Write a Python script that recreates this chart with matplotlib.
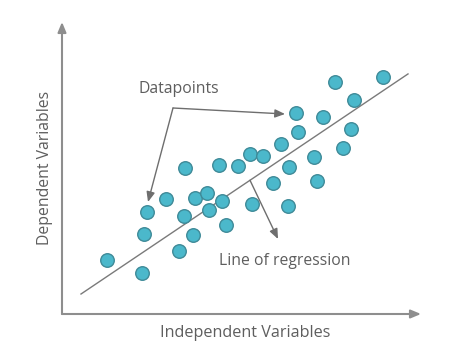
import matplotlib
matplotlib.use("Agg")
import matplotlib.pyplot as plt
import numpy as np

# data points (x, y) in arbitrary units (origin at axes corner)
x_vals = [45, 80, 82, 85, 104, 123, 122, 117, 131, 133, 145, 147, 160, 164, 157, 176,
          188, 201, 219, 236, 234, 261, 273, 321, 292, 289, 281, 252, 227, 211, 255, 190, 226]
y_vals = [54, 41, 80, 102, 115, 146, 98, 63, 79, 116, 121, 104, 113, 89, 149, 148,
          160, 158, 170, 182, 201, 197, 232, 237, 214, 185, 166, 157, 147, 131, 133, 110, 108]

# regression line
reg_slope = 0.673
reg_intercept = 7.2
reg_x = [19, 346]

labels = {"x": "Independent Variables", "y": "Dependent Variables",
          "points": "Datapoints", "line": "Line of regression"}

fig = plt.figure(figsize=(4.74, 3.56), dpi=100)
ax = fig.add_axes([0, 0, 1, 1])
ax.set_xlim(-62, 412)
ax.set_ylim(-42, 314)
ax.axis("off")

font = "Open Sans"
txt = "#5e5e5e"
head = "-|>,head_length=0.6,head_width=0.25"

# axes arrows
for tip in [(359, 0), (0, 292)]:
    ax.annotate("", xy=tip, xytext=(0, 0),
                arrowprops=dict(arrowstyle=head, color="#8e8e8e", lw=1.5, shrinkA=0, shrinkB=0))

# regression line
rx = np.array(reg_x, dtype=float)
ax.plot(rx, reg_slope * rx + reg_intercept, color="#7a7a7a", lw=1.0, zorder=2)

# points
ax.scatter(x_vals, y_vals, s=95, color="#4bb8cb", edgecolor="#3f8a98", linewidth=1.0, zorder=3)

# annotation arrows for datapoints
ax.annotate("", xy=(86, 112), xytext=(111, 206),
            arrowprops=dict(arrowstyle=head, color="#6e6e6e", lw=1.0, shrinkA=0, shrinkB=0))
ax.annotate("", xy=(223, 200), xytext=(111, 206),
            arrowprops=dict(arrowstyle=head, color="#6e6e6e", lw=1.0, shrinkA=0, shrinkB=0))
# arrow from regression line
x0 = 188
ax.annotate("", xy=(216, 75), xytext=(x0, reg_slope * x0 + reg_intercept),
            arrowprops=dict(arrowstyle=head, color="#6e6e6e", lw=1.0, shrinkA=0, shrinkB=0))

ax.text(117, 225, labels["points"], ha="center", va="center", fontsize=11.3, family=font, color=txt)
ax.text(223, 53, labels["line"], ha="center", va="center", fontsize=11.3, family=font, color=txt)
ax.text(183, -19, labels["x"], ha="center", va="center", fontsize=11.6, family=font, color=txt)
ax.text(-17, 146, labels["y"], ha="center", va="center", rotation=90, fontsize=11.3, family=font, color=txt)

fig.savefig("out.png", dpi=100)
